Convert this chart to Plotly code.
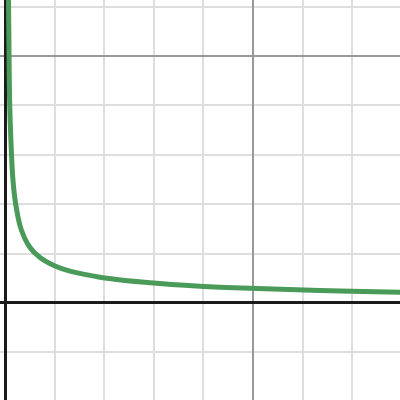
import plotly.graph_objects as go

# Curve points (grid units: 1 minor cell = 1 unit)
curve_x = [0.0665, 0.0706, 0.0806, 0.0927, 0.127, 0.157, 0.212, 0.323, 0.504, 0.706,
           1.008, 1.310, 1.915, 2.923, 3.931, 4.940, 6.351, 7.964, 8.105]
curve_y = [6.478, 6.134, 5.121, 4.109, 3.097, 2.530, 2.024, 1.498, 1.123, 0.921,
           0.749, 0.644, 0.522, 0.409, 0.340, 0.296, 0.251, 0.217, 0.215]

x_range = [-0.101, 7.964]
y_range = [-1.964, 6.134]

fig = go.Figure()
fig.add_trace(go.Scatter(x=curve_x, y=curve_y, mode="lines",
                         line=dict(color="#4a9b5a", width=5, shape="spline", smoothing=1.0),
                         hoverinfo="skip", showlegend=False))

axis_common = dict(
    showticklabels=False, ticks="", showline=False,
    showgrid=True, dtick=5, tick0=0, gridcolor="#999999", gridwidth=1.7,
    zeroline=True, zerolinecolor="#1b1b1b", zerolinewidth=2.6,
    minor=dict(dtick=1, tick0=0, showgrid=True, gridcolor="#dedede", gridwidth=1.8),
    fixedrange=True,
)
fig.update_xaxes(range=x_range, **axis_common)
fig.update_yaxes(range=y_range, **axis_common)

fig.update_layout(
    width=400, height=400,
    margin=dict(l=0, r=0, t=0, b=0),
    plot_bgcolor="white", paper_bgcolor="white",
    showlegend=False,
)

fig.write_html("out.html", config={"displayModeBar": False},
               post_script="document.body.style.margin='0';document.body.style.overflow='hidden';")
